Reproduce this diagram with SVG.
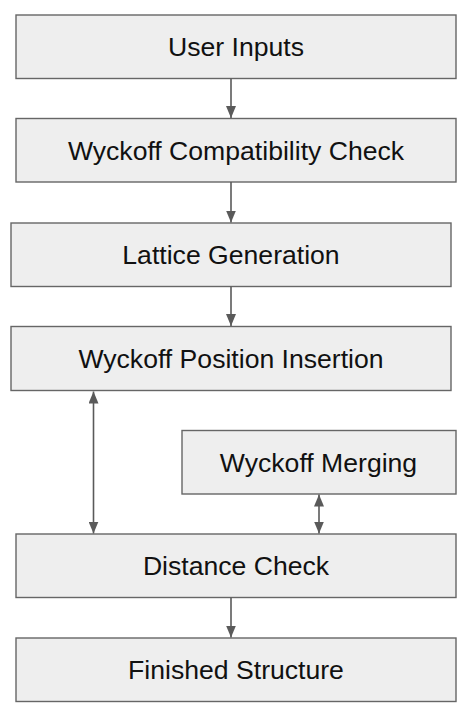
<svg xmlns="http://www.w3.org/2000/svg" width="474" height="718" viewBox="0 0 474 718">
<defs>
<style>
.box{fill:#eeeeee;stroke:#666666;stroke-width:1.4}
.lbl{font-family:"Liberation Sans",Arial,sans-serif;font-size:26.6px;fill:#111111;text-anchor:middle}
.edge{stroke:#5a5a5a;stroke-width:1.6;fill:none}
</style>
<marker id="ah" viewBox="0 0 12 10" refX="12" refY="5" markerWidth="12" markerHeight="10" markerUnits="userSpaceOnUse" orient="auto-start-reverse">
<path d="M0,0 L12,5 L0,10 z" fill="#5a5a5a"/>
</marker>
</defs>
<rect width="474" height="718" fill="#ffffff"/>
<g id="n1"><rect class="box" x="16" y="15" width="440" height="63.5"/><text class="lbl" x="236" y="56">User Inputs</text></g>
<g id="n2"><rect class="box" x="16" y="118.5" width="440" height="63.5"/><text class="lbl" x="236" y="159.5">Wyckoff Compatibility Check</text></g>
<g id="n3"><rect class="box" x="11" y="223" width="440" height="63.5"/><text class="lbl" x="231" y="264">Lattice Generation</text></g>
<g id="n4"><rect class="box" x="11" y="326.5" width="440" height="64"/><text class="lbl" x="231" y="367.5">Wyckoff Position Insertion</text></g>
<g id="n5"><rect class="box" x="182" y="430.5" width="274" height="63.5"/><text class="lbl" x="318.5" y="471.5">Wyckoff Merging</text></g>
<g id="n6"><rect class="box" x="16" y="534" width="440" height="63.5"/><text class="lbl" x="236" y="575.3">Distance Check</text></g>
<g id="n7"><rect class="box" x="16" y="638" width="440" height="63.5"/><text class="lbl" x="236" y="679">Finished Structure</text></g>
<g id="edges">
<line class="edge" x1="231" y1="78.5" x2="231" y2="118" marker-end="url(#ah)"/>
<line class="edge" x1="231" y1="182" x2="231" y2="222.5" marker-end="url(#ah)"/>
<line class="edge" x1="231" y1="286.5" x2="231" y2="326" marker-end="url(#ah)"/>
<line class="edge" x1="93.5" y1="391.5" x2="93.5" y2="533.5" marker-start="url(#ah)" marker-end="url(#ah)"/>
<line class="edge" x1="319" y1="494.5" x2="319" y2="533.5" marker-start="url(#ah)" marker-end="url(#ah)"/>
<line class="edge" x1="231" y1="597.5" x2="231" y2="637.5" marker-end="url(#ah)"/>
</g>
</svg>
